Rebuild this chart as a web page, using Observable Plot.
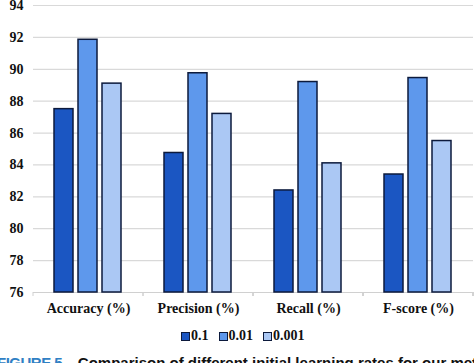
<!DOCTYPE html>
<html>
<head>
<meta charset="utf-8">
<script src="https://cdn.jsdelivr.net/npm/d3@7"></script>
<script src="https://cdn.jsdelivr.net/npm/@observablehq/plot@0.6"></script>
<style>
  html, body { margin: 0; padding: 0; background: #fff; width: 474px; height: 363px; overflow: hidden; }
  #chart svg { display: block; }
  #chart svg text { font-family: "Liberation Serif", "Times New Roman", serif !important; font-weight: bold; }
  .legend { display: flex; align-items: center; height: 16px; margin-top: 6px; padding-left: 181px;
            font: bold 14px "Liberation Serif", "Times New Roman", serif; color: #111; }
  .legend .item { display: flex; align-items: center; margin-right: 10px; }
  .legend .sw { width: 7px; height: 7px; border: 1.3px solid #0c1a3c; margin-right: 1px; }
  .caption { position: absolute; left: -3px; top: 354px; white-space: nowrap;
             font: bold 15px "Liberation Sans", Arial, sans-serif; color: #111; }
  .caption .fig { color: #2f80c4; margin-right: 12px; letter-spacing: -0.5px; }
</style>
</head>
<body>
<div id="chart"></div>
<script>
const categories = ["Accuracy (%)", "Precision (%)", "Recall (%)", "F-score (%)"];
const rates = ["0.1", "0.01", "0.001"];
const values01 = [87.5, 84.75, 82.4, 83.4];
const values001 = [91.85, 89.75, 89.2, 89.45];
const values0001 = [89.1, 87.2, 84.1, 85.5];
const yTicks = [76, 78, 80, 82, 84, 86, 88, 90, 92, 94];
const colors = ["#1b56c2", "#5e98ec", "#abc8f4"];
const serif = "Liberation Serif, Times New Roman, serif";

const seriesValues = [values01, values001, values0001];
const data = [];
categories.forEach((c, i) => rates.forEach((r, j) => data.push({category: c, rate: r, value: seriesValues[j][i]})));

const boundaryTicks = (index, scales, values, dims) => {
  const g = d3.create("svg:g");
  const fx = scales.fx;
  const y0 = scales.y(76);
  const xs = categories.map(c => fx(c)).concat([fx(categories[categories.length - 1]) + fx.bandwidth()]);
  xs.forEach(x => {
    g.append("line").attr("x1", x).attr("x2", x).attr("y1", y0).attr("y2", y0 + 4)
      .attr("stroke", "#d0d0d0").attr("stroke-width", 1);
  });
  return g.node();
};

const chart = Plot.plot({
  width: 474,
  height: 322,
  marginLeft: 33,
  marginRight: 1,
  marginTop: 5,
  marginBottom: 30,
  style: "font-family: 'Liberation Serif', 'Times New Roman', serif; font-weight: bold; font-size: 14px; color: #111; background: #fff;",
  fx: {domain: categories, padding: 0, label: null},
  x: {domain: rates, paddingInner: 0.2, paddingOuter: 0.85, axis: null},
  y: {domain: [76, 94], ticks: yTicks, label: null},
  color: {domain: rates, range: colors},
  marks: [
    Plot.ruleY(yTicks.slice(1), {stroke: "#d9d9d9", strokeWidth: 1.2}),
    Plot.ruleY([76], {stroke: "#d0d0d0", strokeWidth: 1.2}),
    Plot.axisY({ticks: yTicks, tickSize: 0, tickPadding: 10, label: null, fontSize: 14, fontFamily: serif, fontWeight: "bold", fill: "#111"}),
    Plot.axisFx({anchor: "bottom", tickSize: 0, tickPadding: 11, label: null, fontSize: 14, fontFamily: serif, fontWeight: "bold", fill: "#111"}),
    Plot.barY(data, {fx: "category", x: "rate", y1: 76, y2: "value", fill: "rate", stroke: "#0c1a3c", strokeWidth: 1.5}),
    boundaryTicks
  ]
});
document.getElementById("chart").append(chart);

const legend = document.createElement("div");
legend.className = "legend";
rates.forEach((r, i) => {
  const item = document.createElement("div");
  item.className = "item";
  const sw = document.createElement("span");
  sw.className = "sw";
  sw.style.background = colors[i];
  const t = document.createElement("span");
  t.textContent = r;
  item.append(sw, t);
  legend.append(item);
});
document.body.append(legend);

const cap = document.createElement("div");
cap.className = "caption";
cap.innerHTML = '<span class="fig">FIGURE 5.</span>Comparison of different initial learning rates for our method';
document.body.append(cap);
</script>
</body>
</html>
